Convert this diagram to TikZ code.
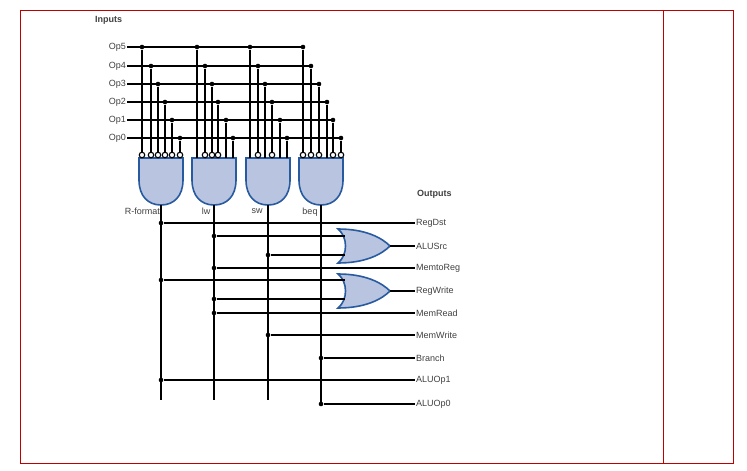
\documentclass[tikz,border=0pt]{standalone}
\usepackage{fontspec}
\setmainfont{Liberation Sans}
\usetikzlibrary{positioning}
\definecolor{gatefill}{RGB}{184,196,224}
\definecolor{gateline}{RGB}{40,90,160}
\tikzset{
    wire/.style={black, line width=1.4pt},
    gate/.style={draw=gateline, fill=gatefill, line width=1.6pt},
    lbl/.style={font=\fontsize{9}{11}\selectfont, text=black!75, inner sep=1pt},
    dot/.style={circle, fill=black, inner sep=0pt, minimum size=4.6pt},
    bubble/.style={circle, draw=black, fill=white, line width=1.1pt, inner sep=0pt, minimum size=5.5pt},
  }
\newcommand{\andgate}[2]{% left x, centre x
  \draw[gate] (#1,158) -- (#1+44,158) -- (#1+44,180) .. controls (#1+44,196) and (#2+13,205) .. (#2,205)
    .. controls (#2-13,205) and (#1,196) .. (#1,180) -- cycle;}
\newcommand{\orgate}[2]{% top y, bottom y
  \draw[gate] (338,#1) .. controls (366,#1) and (382,{(#1+#2)/2-8}) .. (390,{(#1+#2)/2})
    .. controls (382,{(#1+#2)/2+8}) and (366,#2) .. (338,#2)
    .. controls (348,#2-8) and (348,#1+8) .. (338,#1) -- cycle;}
\begin{document}
\begin{tikzpicture}[x=1pt,y=-1pt]
\useasboundingbox (0,0) rectangle (747,471);
\draw[red!75!black, line width=0.8pt] (20,10) rectangle (733,463);
\draw[red!75!black, line width=0.8pt] (663,10) -- (663,463);

\node[lbl, font=\fontsize{9}{11}\selectfont\bfseries, anchor=west] (inputs) at (94,20) {Inputs};
\node[lbl, font=\fontsize{9}{11}\selectfont\bfseries, anchor=west] (outputs) at (416,194) {Outputs};

% opcode inputs
\foreach \n/\y/\xe in {5/47/303, 4/66/311, 3/84/319, 2/102/327, 1/120/333, 0/138/341}{
  \node[lbl, anchor=east] (op\n) at (127,\y) {Op\n};
  \coordinate (op\n end) at (\xe,\y);
  \draw[wire] (op\n.east) -- (op\n end);
}

% gates
\andgate{139}{161}
\andgate{192}{214}
\andgate{246}{268}
\andgate{299}{321}

% gate input taps: x / y / bubble
\foreach \x/\y/\b in {142/47/1, 151/66/1, 158/84/1, 165/102/1, 172/120/1, 180/138/1,
                      197/47/0, 205/66/1, 212/84/1, 218/102/1, 226/120/0, 233/138/0,
                      250/47/0, 258/66/1, 265/84/0, 272/102/1, 280/120/0, 287/138/0,
                      303/47/1, 311/66/1, 319/84/1, 327/102/0, 333/120/1, 341/138/1}{
  \node[dot] (tap) at (\x,\y) {};
  \ifnum\b=1
    \node[bubble] (inv) at (\x,155) {};
    \draw[wire] (tap) -- (inv.north);
  \else
    \draw[wire] (tap) -- (\x,158);
  \fi
}

\node[lbl, anchor=north east] (rformat) at (161,207) {R-format};
\node[lbl, anchor=north] (lw) at (206,207) {lw};
\node[lbl, anchor=north] (sw) at (257,207) {sw};
\node[lbl, anchor=north] (beq) at (310,207) {beq};

% gate outputs
\foreach \n/\x/\yb in {rf/161/400, lwo/214/400, swo/268/400, bq/321/404}{
  \coordinate (\n top) at (\x,205);
  \coordinate (\n bot) at (\x,\yb);
  \draw[wire] (\n top) -- (\n bot);
}

% or gates
\orgate{229}{263}
\orgate{274}{308}

% outputs
\foreach \n/\y in {RegDst/223, ALUSrc/246, MemtoReg/268, RegWrite/291, MemRead/313,
                   MemWrite/335, Branch/358, ALUOp1/380, ALUOp0/404}{
  \node[lbl, anchor=west] (\n) at (415,\y) {\n};
}

\foreach \x/\y/\xe in {161/223/415, 214/236/345, 268/255/345, 214/268/415,
                        161/280/345, 214/299/345, 214/313/415, 268/335/415,
                        321/358/415, 161/380/415, 321/404/415}{
  \node[dot] (src) at (\x,\y) {};
  \draw[wire] (src) -- (\xe,\y);
}
\draw[wire] (390,246) -- (ALUSrc.west);
\draw[wire] (390,291) -- (RegWrite.west);
\end{tikzpicture}
\end{document}
